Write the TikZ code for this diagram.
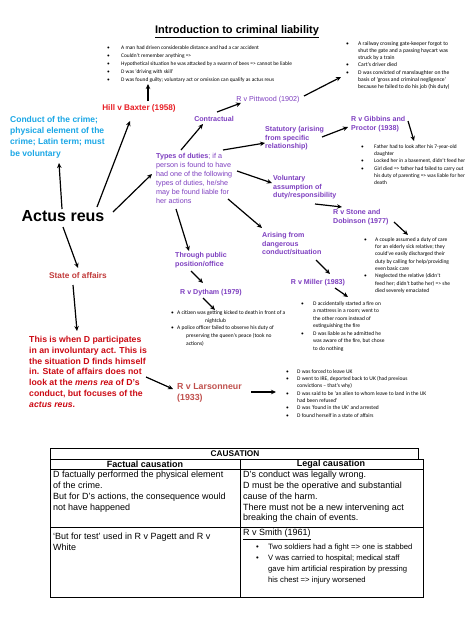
\documentclass[tikz,border=0pt]{standalone}
\usepackage{fontspec}
\setmainfont{Liberation Sans}
\newfontfamily\calib{Carlito}
\usetikzlibrary{arrows.meta}
\definecolor{purp}{HTML}{7E3FC0}
\definecolor{cyanc}{HTML}{1AA7E6}
\definecolor{hillred}{HTML}{E81E25}
\definecolor{stred}{HTML}{C23B3B}
\definecolor{parared}{HTML}{CC0A14}
\definecolor{larsred}{HTML}{C0504D}
\tikzset{
  arr/.style={line width=1.2pt, -{Stealth[length=5pt,width=4.5pt]}},
  lbl/.style={inner sep=0pt, align=left},
  pl/.style={lbl, text=purp, font=\bfseries\fontsize{7.1}{8.8}\selectfont},
  sl/.style={inner sep=0pt, font=\calib\fontsize{5.5}{7.3}\selectfont},
  tb/.style={inner sep=0pt, align=left, font=\fontsize{9}{10.8}\selectfont},
  tbh/.style={inner sep=0pt, font=\bfseries\fontsize{9}{10.8}\selectfont},
  tline/.style={line width=0.6pt},
}
\begin{document}
\begin{tikzpicture}[x=1pt,y=-1pt]
\fill[white] (0,0) rectangle (474,632);
\useasboundingbox (0,0) rectangle (474,632);

% title
\node[inner sep=0pt, font=\bfseries\fontsize{11}{13}\selectfont] (title) at (237,32) {\underline{Introduction to criminal liability}};

% top list (Hill v Baxter)
\node[sl, anchor=north west, font=\calib\fontsize{5.4}{8}\selectfont] (toplist) at (107,44) {\begin{tabular}{@{}p{14pt}@{}l@{}}
\textbullet & A man had driven considerable distance and had a car accident\\
\textbullet & Couldn’t remember anything =>\\
\textbullet & Hypothetical situation he was attacked by a swarm of bees => cannot be liable\\
\textbullet & D was ‘driving with skill’\\
\textbullet & D was found guilty; voluntary act or omission can qualify as actus reus
\end{tabular}};

\node[inner sep=0pt, text=hillred, font=\bfseries\fontsize{8.2}{10}\selectfont] (hill) at (139,108) {Hill v Baxter (1958)};

\node[lbl, anchor=north west, text=cyanc, font=\bfseries\fontsize{8.5}{11.3}\selectfont] (conduct) at (10,116) {Conduct of the crime;\\physical element of the\\crime; Latin term; must\\be voluntary};

\node[inner sep=0pt, font=\bfseries\fontsize{16}{18}\selectfont] (ar) at (63,216) {Actus reus};

\node[inner sep=0pt, text=stred, font=\bfseries\fontsize{8.3}{10}\selectfont] (state) at (78,276) {State of affairs};

\node[lbl, anchor=north west, text=parared, font=\bfseries\fontsize{8.7}{10.8}\selectfont] (para) at (29,336) {This is when D participates\\in an involuntary act. This is\\the situation D finds himself\\in. State of affairs does not\\look at the \textit{mens rea} of D’s\\conduct, but focuses of the\\\textit{actus reus}.};

\node[lbl, anchor=north west, text=larsred, font=\bfseries\fontsize{8.8}{11}\selectfont] (lars) at (177,383) {R v Larsonneur\\(1933)};

\node[sl, anchor=north west] (larslist) at (286,368) {\begin{tabular}{@{}p{11pt}@{}l@{}}
\textbullet & D was forced to leave UK\\
\textbullet & D went to IRE, deported back to UK (had previous\\
 & convictions – that’s why)\\
\textbullet & D was said to be ‘an alien to whom leave to land in the UK\\
 & had been refused’\\
\textbullet & D was ‘found in the UK’ and arrested\\
\textbullet & D found herself in a state of affairs
\end{tabular}};

% types of duties
\node[lbl, anchor=north west, text=purp, font=\fontsize{7.2}{9}\selectfont] (types) at (156,153) {\textbf{Types of duties}; if a\\person is found to have\\had one of the following\\types of duties, he/she\\may be found liable for\\her actions};

\node[pl] (contr) at (214,119) {Contractual};
\node[lbl, text=purp, font=\fontsize{7.2}{9}\selectfont] (pitt) at (268,100) {R v Pittwood (1902)};

\node[sl, anchor=north west, font=\calib\fontsize{5.6}{7.2}\selectfont] (pittlist) at (346,40) {\begin{tabular}{@{}p{12pt}@{}l@{}}
\textbullet & A railway crossing gate-keeper forgot to\\
 & shut the gate and a passing haycart was\\
 & struck by a train\\
\textbullet & Cart’s driver died\\
\textbullet & D was convicted of manslaughter on the\\
 & basis of ‘gross and criminal negligence’\\
 & because he failed to do his job (his duty)
\end{tabular}};

\node[pl, anchor=north west] (stat) at (265,126) {Statutory (arising\\from specific\\relationship)};
\node[pl, anchor=north west] (gib) at (351,116) {R v Gibbins and\\Proctor (1938)};

\node[sl, anchor=north west, font=\calib\fontsize{5.4}{7.3}\selectfont] (giblist) at (361,143) {\begin{tabular}{@{}p{13pt}@{}l@{}}
\textbullet & Father had to look after his 7-year-old\\
 & daughter\\
\textbullet & Locked her in a basement, didn’t feed her\\
\textbullet & Girl died => father had failed to carry out\\
 & his duty of parenting => was liable for her\\
 & death
\end{tabular}};

\node[pl, anchor=north west] (vol) at (273,175) {Voluntary\\assumption of\\duty/responsibility};
\node[pl, anchor=north west] (stone) at (333,209) {R v Stone and\\Dobinson (1977)};

\node[sl, anchor=north west] (stonelist) at (364,236) {\begin{tabular}{@{}p{11pt}@{}l@{}}
\textbullet & A couple assumed a duty of care\\
 & for an elderly sick relative; they\\
 & could’ve easily discharged their\\
 & duty by calling for help/providing\\
 & even basic care\\
\textbullet & Neglected the relative (didn’t\\
 & feed her; didn’t bathe her) => she\\
 & died severely emaciated
\end{tabular}};

\node[pl, anchor=north west] (aris) at (262,232) {Arising from\\dangerous\\conduct/situation};
\node[pl] (miller) at (318,283) {R v Miller (1983)};

\node[sl, anchor=north west, font=\calib\fontsize{5.5}{7.5}\selectfont] (millist) at (301,300) {\begin{tabular}{@{}p{12pt}@{}l@{}}
\textbullet & D accidentally started a fire on\\
 & a mattress in a room; went to\\
 & the other room instead of\\
 & extinguishing the fire\\
\textbullet & D was liable as he admitted he\\
 & was aware of the fire, but chose\\
 & to do nothing
\end{tabular}};

\node[pl, anchor=north west] (through) at (175,252) {Through public\\position/office};
\node[pl] (dytham) at (211,293) {R v Dytham (1979)};

\node[sl, anchor=north west, font=\calib\fontsize{5.5}{7.7}\selectfont] (dytlist) at (171,309) {\begin{tabular}{@{}p{6pt}@{}l@{}}
\textbullet & A citizen was getting kicked to death in front of a\\
 & \hspace*{28pt}nightclub\\
\textbullet & A police officer failed to observe his duty of\\
 & \hspace*{9pt}preserving the queen’s peace (took no\\
 & \hspace*{9pt}actions)
\end{tabular}};

% arrows
\draw[arr] ([shift={(-1,-7)}]ar.center) -- ([shift={(49,47)}]conduct.north west);
\draw[arr] ([shift={(34,-9)}]ar.center) -- ([shift={(-9,13)}]hill.center);
\draw[arr] ([shift={(50,-4)}]ar.center) -- ([shift={(-4,21)}]types.north west);
\draw[arr] ([shift={(0,11)}]ar.center) -- ([shift={(0,-8)}]state.center);
\draw[arr] ([shift={(-5,9)}]state.center) -- ([shift={(48,-5)}]para.north west);
\draw[arr] ([shift={(117,41)}]para.north west) -- ([shift={(-4,6)}]lars.north west);
\draw[arr] ([shift={(74,9)}]lars.north west) -- ([shift={(-10,24)}]larslist.north west);
\draw[arr] ([shift={(9,-7)}]hill.center) -- ([shift={(41,40)}]toplist.north west);
\draw[arr] ([shift={(25,-3)}]types.north west) -- ([shift={(-11,5)}]contr.center);
\draw[arr] ([shift={(3,-7)}]contr.center) -- ([shift={(-27,3)}]pitt.center);
\draw[arr] ([shift={(36,-4)}]pitt.center) -- ([shift={(-5,37)}]pittlist.north west);
\draw[arr] ([shift={(67,-3)}]types.north west) -- ([shift={(0,17)}]stat.north west);
\draw[arr] ([shift={(57,11)}]stat.north west) -- ([shift={(-3,11)}]gib.north west);
\draw[arr] ([shift={(57,5)}]gib.north west) -- ([shift={(53,-2)}]giblist.north west);
\draw[arr] ([shift={(81,18)}]types.north west) -- ([shift={(-1,8)}]vol.north west);
\draw[arr] ([shift={(42,29)}]vol.north west) -- ([shift={(9,-2)}]stone.north west);
\draw[arr] ([shift={(61,13)}]stone.north west) -- ([shift={(44,-1)}]stonelist.north west);
\draw[arr] ([shift={(72,46)}]types.north west) -- ([shift={(0,-4)}]aris.north west);
\draw[arr] ([shift={(54,28)}]aris.north west) -- ([shift={(12,-9)}]miller.center);
\draw[arr] ([shift={(17,5)}]miller.center) -- ([shift={(47,-3)}]millist.north west);
\draw[arr] ([shift={(20,56)}]types.north west) -- ([shift={(14,-1)}]through.north west);
\draw[arr] ([shift={(16,19)}]through.north west) -- ([shift={(-8,-10)}]dytham.center);
\draw[arr] ([shift={(-8,5)}]dytham.center) -- ([shift={(44,1)}]dytlist.north west);

% table
\draw[tline] (50,448) rectangle (418,459);
\draw[tline] (50,459) rectangle (423,597);
\draw[tline] (50,469) -- (423,469);
\draw[tline] (50,527) -- (423,527);
\draw[tline] (240,459) -- (240,597);
\node[tbh, font=\bfseries\fontsize{8.3}{10}\selectfont] (caus) at (235,453.5) {CAUSATION};
\node[tbh] (fact) at (145,464) {Factual causation};
\node[tbh] (legal) at (331,464) {Legal causation};
\node[tb, anchor=north west] (factc) at (53,471) {D factually performed the physical element\\of the crime.\\But for D’s actions, the consequence would\\not have happened};
\node[tb, anchor=north west] (legalc) at (243,471) {D’s conduct was legally wrong.\\D must be the operative and substantial\\cause of the harm.\\There must not be a new intervening act\\breaking the chain of events.};
\node[tb, anchor=north west] (pagett) at (53,533) {‘But for test’ used in R v Pagett and R v\\White};
\node[tb, anchor=north west] (smith) at (243,529) {\underline{R v Smith (1961)}};
\node[tb, anchor=north west, font=\fontsize{7.7}{10.8}\selectfont] (smithlist) at (256,542) {\begin{tabular}{@{}p{12pt}@{}l@{}}
\textbullet & Two soldiers had a fight => one is stabbed\\
\textbullet & V was carried to hospital; medical staff\\
 & gave him artificial respiration by pressing\\
 & his chest => injury worsened
\end{tabular}};
\end{tikzpicture}
\end{document}
